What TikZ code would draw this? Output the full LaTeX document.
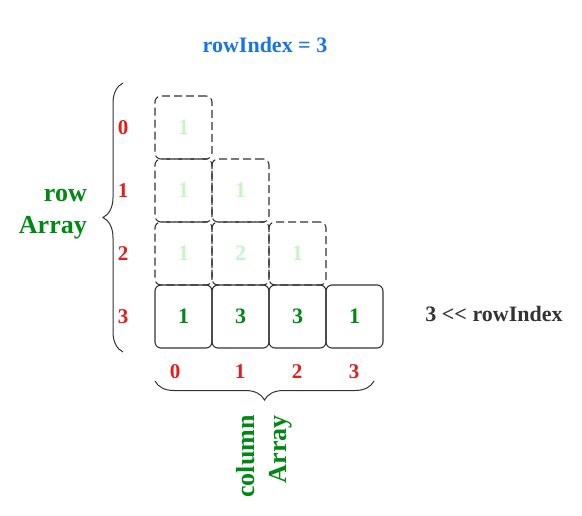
\documentclass[tikz,border=0pt]{standalone}
\usepackage{fontspec}
\setmainfont{Liberation Serif}
\usetikzlibrary{decorations.pathreplacing}
\definecolor{myred}{RGB}{228,28,28}
\definecolor{mygreen}{RGB}{0,136,20}
\definecolor{lightgr}{RGB}{198,245,198}
\definecolor{myblue}{RGB}{24,116,232}
\definecolor{darkg}{RGB}{51,51,51}
\tikzset{
  cellbase/.style={rectangle, rounded corners=6pt, minimum width=57pt, minimum height=63pt, inner sep=0pt, line width=1.1pt, font=\fontsize{22}{26}\selectfont\bfseries},
  ghost/.style={cellbase, draw=darkg, dash pattern=on 8pt off 4pt, text=lightgr},
  solidcell/.style={cellbase, draw=darkg, text=mygreen},
  idx/.style={text=myred, font=\fontsize{21}{24}\selectfont\bfseries, inner sep=0pt},
  lbl/.style={text=mygreen, font=\fontsize{26}{32}\selectfont\bfseries, inner sep=0pt},
  bracestyle/.style={draw=darkg, line width=1pt}
}
\begin{document}
\begin{tikzpicture}[x=1pt,y=-1pt]
\useasboundingbox (0,0) rectangle (582,515);
% title
\node[text=myblue, font=\fontsize{22}{26}\selectfont\bfseries] (title) at (265,45) {rowIndex = 3};
% ghost cells
\node[ghost] (c00) at (183.5,127.5) {1};
\node[ghost] (c10) at (183.5,190.5) {1};
\node[ghost] (c11) at (240.5,190.5) {1};
\node[ghost] (c20) at (183.5,253.5) {1};
\node[ghost] (c21) at (240.5,253.5) {2};
\node[ghost] (c22) at (297.5,253.5) {1};
% current row
\node[solidcell] (c30) at (183.5,316.5) {1};
\node[solidcell] (c31) at (240.5,316.5) {3};
\node[solidcell] (c32) at (297.5,316.5) {3};
\node[solidcell] (c33) at (354.5,316.5) {1};
% row indices
\node[idx] (r0) at (123,127.5) {0};
\node[idx] (r1) at (123,190.5) {1};
\node[idx] (r2) at (123,253.5) {2};
\node[idx] (r3) at (123,316.5) {3};
% column indices
\node[idx] (k0) at (175,372) {0};
\node[idx] (k1) at (240,372) {1};
\node[idx] (k2) at (297,372) {2};
\node[idx] (k3) at (354,372) {3};
% braces
\coordinate (lb1) at (123,352);
\coordinate (lb2) at (123,83);
\draw[bracestyle, decorate, decoration={brace, amplitude=20pt}] (lb1) -- (lb2);
\coordinate (bb1) at (155,381);
\coordinate (bb2) at (374,381);
\draw[bracestyle, decorate, decoration={brace, mirror, amplitude=19pt}] (bb1) -- (bb2);
% labels
\node[lbl, align=right, anchor=east] (rowlbl) at (87,214) {row\\Array};
\node[lbl, align=right, rotate=90, anchor=east] (collbl) at (264,415) {column\\Array};
\node[text=darkg, font=\fontsize{22}{26}\selectfont\bfseries] (shift) at (494,314) {3 \mbox{<}\kern0pt\mbox{<} rowIndex};
\end{tikzpicture}
\end{document}
